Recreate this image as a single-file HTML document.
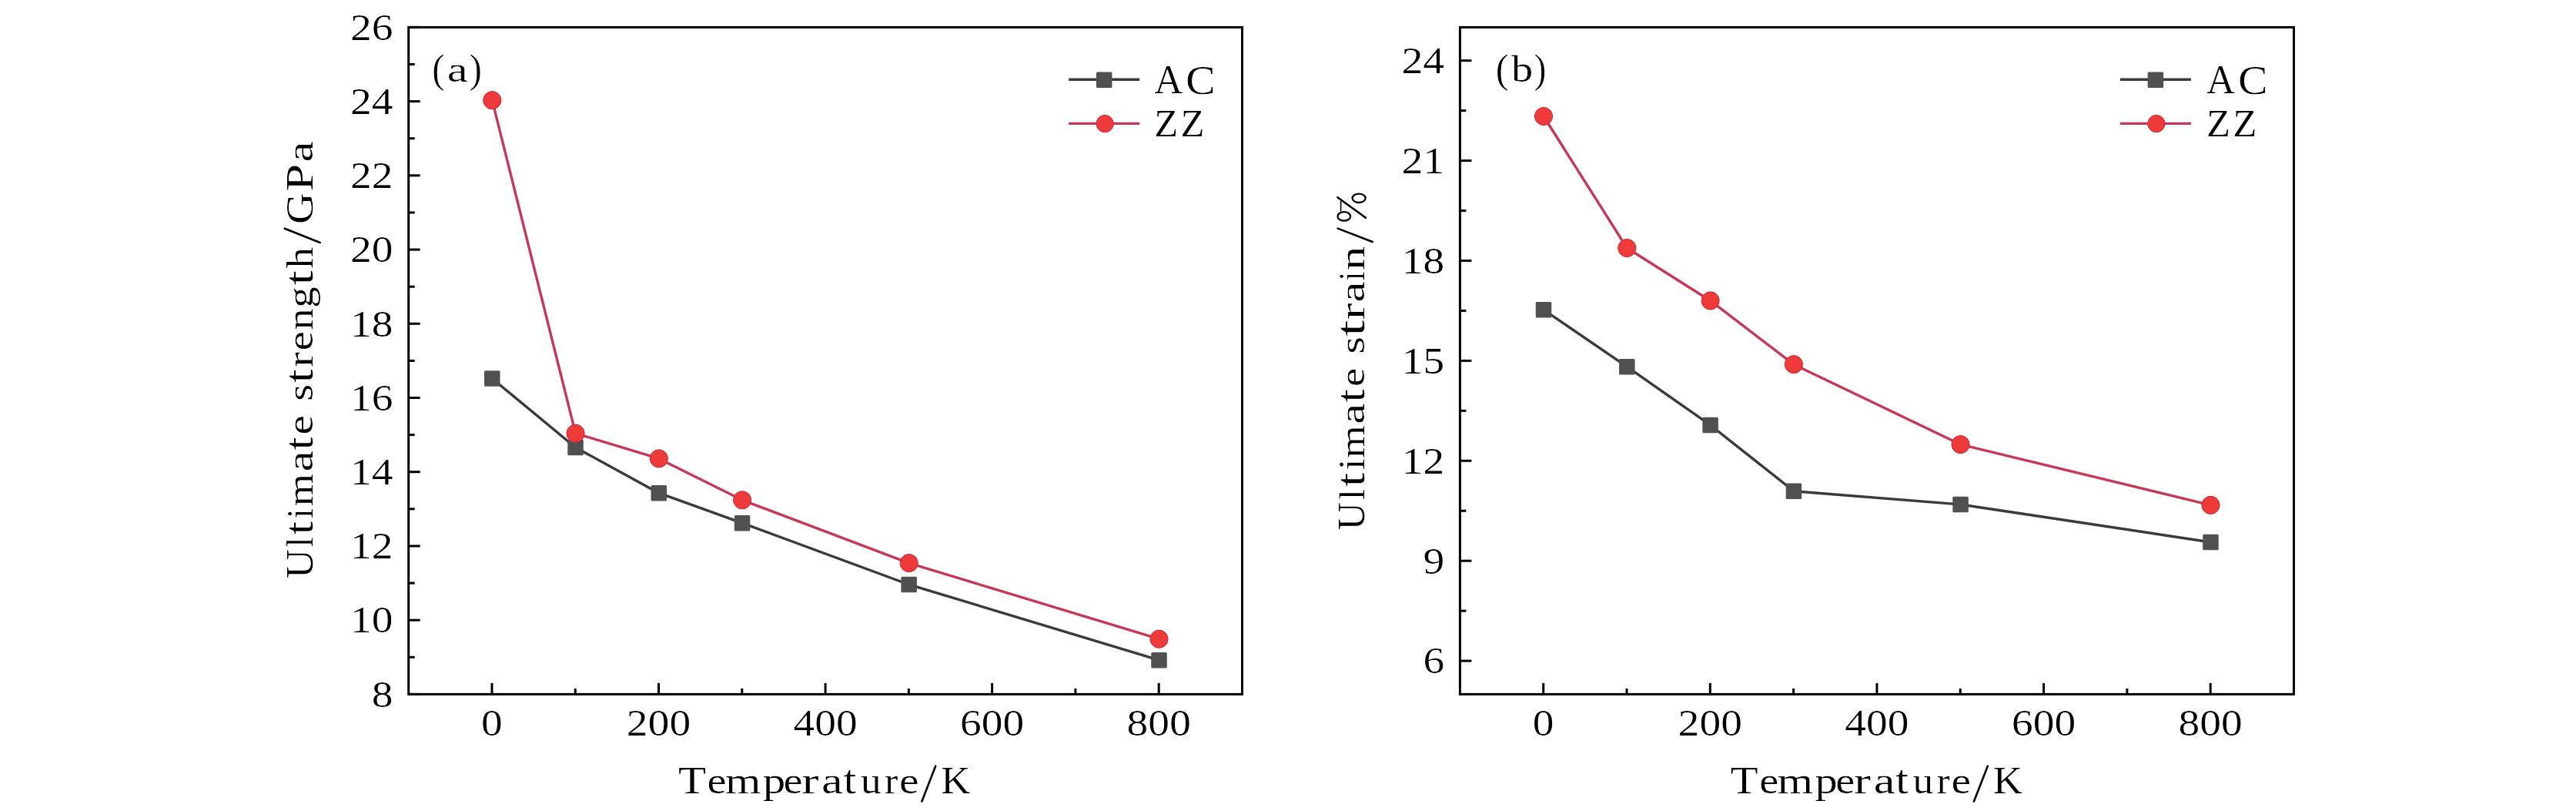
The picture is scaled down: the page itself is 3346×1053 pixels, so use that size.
<!DOCTYPE html>
<html><head><meta charset="utf-8"><style>
html,body{margin:0;padding:0;background:#fff;width:3346px;height:1053px;overflow:hidden}
svg{display:block;position:absolute;left:0;top:0}
text{font-family:"Liberation Serif",serif;font-size:100px;fill:#000}
mask text{fill:#fff}
</style></head><body>
<svg width="3346" height="1053" viewBox="0 0 3346 1053">
<rect width="3346" height="1053" fill="#fff"/>
<rect x="530.7" y="35.4" width="1082.80" height="866.00" fill="none" stroke="#000" stroke-width="3"/>
<line x1="638.98" y1="901.4" x2="638.98" y2="886.90" stroke="#000" stroke-width="3"/>
<line x1="747.26" y1="901.4" x2="747.26" y2="893.90" stroke="#000" stroke-width="3"/>
<line x1="855.54" y1="901.4" x2="855.54" y2="886.90" stroke="#000" stroke-width="3"/>
<line x1="963.82" y1="901.4" x2="963.82" y2="893.90" stroke="#000" stroke-width="3"/>
<line x1="1072.10" y1="901.4" x2="1072.10" y2="886.90" stroke="#000" stroke-width="3"/>
<line x1="1180.38" y1="901.4" x2="1180.38" y2="893.90" stroke="#000" stroke-width="3"/>
<line x1="1288.66" y1="901.4" x2="1288.66" y2="886.90" stroke="#000" stroke-width="3"/>
<line x1="1396.94" y1="901.4" x2="1396.94" y2="893.90" stroke="#000" stroke-width="3"/>
<line x1="1505.22" y1="901.4" x2="1505.22" y2="886.90" stroke="#000" stroke-width="3"/>
<line x1="530.7" y1="901.40" x2="545.70" y2="901.40" stroke="#000" stroke-width="3"/>
<line x1="530.7" y1="805.18" x2="545.70" y2="805.18" stroke="#000" stroke-width="3"/>
<line x1="530.7" y1="708.96" x2="545.70" y2="708.96" stroke="#000" stroke-width="3"/>
<line x1="530.7" y1="612.73" x2="545.70" y2="612.73" stroke="#000" stroke-width="3"/>
<line x1="530.7" y1="516.51" x2="545.70" y2="516.51" stroke="#000" stroke-width="3"/>
<line x1="530.7" y1="420.29" x2="545.70" y2="420.29" stroke="#000" stroke-width="3"/>
<line x1="530.7" y1="324.07" x2="545.70" y2="324.07" stroke="#000" stroke-width="3"/>
<line x1="530.7" y1="227.84" x2="545.70" y2="227.84" stroke="#000" stroke-width="3"/>
<line x1="530.7" y1="131.62" x2="545.70" y2="131.62" stroke="#000" stroke-width="3"/>
<line x1="530.7" y1="35.40" x2="545.70" y2="35.40" stroke="#000" stroke-width="3"/>
<line x1="530.7" y1="853.29" x2="538.70" y2="853.29" stroke="#000" stroke-width="3"/>
<line x1="530.7" y1="757.07" x2="538.70" y2="757.07" stroke="#000" stroke-width="3"/>
<line x1="530.7" y1="660.84" x2="538.70" y2="660.84" stroke="#000" stroke-width="3"/>
<line x1="530.7" y1="564.62" x2="538.70" y2="564.62" stroke="#000" stroke-width="3"/>
<line x1="530.7" y1="468.40" x2="538.70" y2="468.40" stroke="#000" stroke-width="3"/>
<line x1="530.7" y1="372.18" x2="538.70" y2="372.18" stroke="#000" stroke-width="3"/>
<line x1="530.7" y1="275.96" x2="538.70" y2="275.96" stroke="#000" stroke-width="3"/>
<line x1="530.7" y1="179.73" x2="538.70" y2="179.73" stroke="#000" stroke-width="3"/>
<line x1="530.7" y1="83.51" x2="538.70" y2="83.51" stroke="#000" stroke-width="3"/>
<polyline points="639.28,491.49 747.56,580.98 855.84,640.16 964.12,679.13 1180.68,758.99 1505.52,857.14" fill="none" stroke="#3a3a3a" stroke-width="3.4" stroke-linejoin="round"/>
<polyline points="639.28,130.18 747.56,562.70 855.84,595.41 964.12,649.30 1180.68,731.09 1505.52,829.71" fill="none" stroke="#c6385a" stroke-width="3.4" stroke-linejoin="round"/>
<rect x="629.03" y="481.24" width="20.5" height="20.5" rx="1.5" fill="#505050"/>
<rect x="737.31" y="570.73" width="20.5" height="20.5" rx="1.5" fill="#505050"/>
<rect x="845.59" y="629.91" width="20.5" height="20.5" rx="1.5" fill="#505050"/>
<rect x="953.87" y="668.88" width="20.5" height="20.5" rx="1.5" fill="#505050"/>
<rect x="1170.43" y="748.74" width="20.5" height="20.5" rx="1.5" fill="#505050"/>
<rect x="1495.27" y="846.89" width="20.5" height="20.5" rx="1.5" fill="#505050"/>
<circle cx="639.28" cy="130.18" r="11.6" fill="#ef3a3a" stroke="#c8283a" stroke-width="1"/>
<circle cx="747.56" cy="562.70" r="11.6" fill="#ef3a3a" stroke="#c8283a" stroke-width="1"/>
<circle cx="855.84" cy="595.41" r="11.6" fill="#ef3a3a" stroke="#c8283a" stroke-width="1"/>
<circle cx="964.12" cy="649.30" r="11.6" fill="#ef3a3a" stroke="#c8283a" stroke-width="1"/>
<circle cx="1180.68" cy="731.09" r="11.6" fill="#ef3a3a" stroke="#c8283a" stroke-width="1"/>
<circle cx="1505.52" cy="829.71" r="11.6" fill="#ef3a3a" stroke="#c8283a" stroke-width="1"/>
<line x1="1388.20" y1="103.3" x2="1480.20" y2="103.3" stroke="#3a3a3a" stroke-width="3.4"/>
<rect x="1423.95" y="93.45" width="20.5" height="20.5" rx="1.5" fill="#505050"/>
<line x1="1388.20" y1="160.4" x2="1480.20" y2="160.4" stroke="#c6385a" stroke-width="3.4"/>
<circle cx="1435.20" cy="160.6" r="11.2" fill="#ef3a3a" stroke="#c8283a" stroke-width="1"/>
<rect x="1896.4" y="35.4" width="1083.10" height="866.00" fill="none" stroke="#000" stroke-width="3"/>
<line x1="2004.71" y1="901.4" x2="2004.71" y2="886.90" stroke="#000" stroke-width="3"/>
<line x1="2113.02" y1="901.4" x2="2113.02" y2="893.90" stroke="#000" stroke-width="3"/>
<line x1="2221.33" y1="901.4" x2="2221.33" y2="886.90" stroke="#000" stroke-width="3"/>
<line x1="2329.64" y1="901.4" x2="2329.64" y2="893.90" stroke="#000" stroke-width="3"/>
<line x1="2437.95" y1="901.4" x2="2437.95" y2="886.90" stroke="#000" stroke-width="3"/>
<line x1="2546.26" y1="901.4" x2="2546.26" y2="893.90" stroke="#000" stroke-width="3"/>
<line x1="2654.57" y1="901.4" x2="2654.57" y2="886.90" stroke="#000" stroke-width="3"/>
<line x1="2762.88" y1="901.4" x2="2762.88" y2="893.90" stroke="#000" stroke-width="3"/>
<line x1="2871.19" y1="901.4" x2="2871.19" y2="886.90" stroke="#000" stroke-width="3"/>
<line x1="1896.4" y1="858.10" x2="1911.40" y2="858.10" stroke="#000" stroke-width="3"/>
<line x1="1896.4" y1="728.20" x2="1911.40" y2="728.20" stroke="#000" stroke-width="3"/>
<line x1="1896.4" y1="598.30" x2="1911.40" y2="598.30" stroke="#000" stroke-width="3"/>
<line x1="1896.4" y1="468.40" x2="1911.40" y2="468.40" stroke="#000" stroke-width="3"/>
<line x1="1896.4" y1="338.50" x2="1911.40" y2="338.50" stroke="#000" stroke-width="3"/>
<line x1="1896.4" y1="208.60" x2="1911.40" y2="208.60" stroke="#000" stroke-width="3"/>
<line x1="1896.4" y1="78.70" x2="1911.40" y2="78.70" stroke="#000" stroke-width="3"/>
<line x1="1896.4" y1="793.15" x2="1904.40" y2="793.15" stroke="#000" stroke-width="3"/>
<line x1="1896.4" y1="663.25" x2="1904.40" y2="663.25" stroke="#000" stroke-width="3"/>
<line x1="1896.4" y1="533.35" x2="1904.40" y2="533.35" stroke="#000" stroke-width="3"/>
<line x1="1896.4" y1="403.45" x2="1904.40" y2="403.45" stroke="#000" stroke-width="3"/>
<line x1="1896.4" y1="273.55" x2="1904.40" y2="273.55" stroke="#000" stroke-width="3"/>
<line x1="1896.4" y1="143.65" x2="1904.40" y2="143.65" stroke="#000" stroke-width="3"/>
<polyline points="2005.01,402.15 2113.32,476.19 2221.63,551.97 2329.94,637.70 2546.56,655.02 2871.49,703.95" fill="none" stroke="#3a3a3a" stroke-width="3.4" stroke-linejoin="round"/>
<polyline points="2005.01,151.01 2113.32,322.05 2221.63,390.46 2329.94,473.16 2546.56,577.08 2871.49,655.89" fill="none" stroke="#c6385a" stroke-width="3.4" stroke-linejoin="round"/>
<rect x="1994.76" y="391.90" width="20.5" height="20.5" rx="1.5" fill="#505050"/>
<rect x="2103.07" y="465.94" width="20.5" height="20.5" rx="1.5" fill="#505050"/>
<rect x="2211.38" y="541.72" width="20.5" height="20.5" rx="1.5" fill="#505050"/>
<rect x="2319.69" y="627.45" width="20.5" height="20.5" rx="1.5" fill="#505050"/>
<rect x="2536.31" y="644.77" width="20.5" height="20.5" rx="1.5" fill="#505050"/>
<rect x="2861.24" y="693.70" width="20.5" height="20.5" rx="1.5" fill="#505050"/>
<circle cx="2005.01" cy="151.01" r="11.6" fill="#ef3a3a" stroke="#c8283a" stroke-width="1"/>
<circle cx="2113.32" cy="322.05" r="11.6" fill="#ef3a3a" stroke="#c8283a" stroke-width="1"/>
<circle cx="2221.63" cy="390.46" r="11.6" fill="#ef3a3a" stroke="#c8283a" stroke-width="1"/>
<circle cx="2329.94" cy="473.16" r="11.6" fill="#ef3a3a" stroke="#c8283a" stroke-width="1"/>
<circle cx="2546.56" cy="577.08" r="11.6" fill="#ef3a3a" stroke="#c8283a" stroke-width="1"/>
<circle cx="2871.49" cy="655.89" r="11.6" fill="#ef3a3a" stroke="#c8283a" stroke-width="1"/>
<line x1="2753.90" y1="103.3" x2="2845.90" y2="103.3" stroke="#3a3a3a" stroke-width="3.4"/>
<rect x="2789.65" y="93.45" width="20.5" height="20.5" rx="1.5" fill="#505050"/>
<line x1="2753.90" y1="160.4" x2="2845.90" y2="160.4" stroke="#c6385a" stroke-width="3.4"/>
<circle cx="2800.90" cy="160.6" r="11.2" fill="#ef3a3a" stroke="#c8283a" stroke-width="1"/>
<defs>
<mask id="mh" maskUnits="userSpaceOnUse" x="0" y="0" width="3346" height="1053"><g transform="translate(0.45,0)" style="fill:#fff">
<text transform="translate(482.70,917.70) scale(0.556,0.487)">8</text>
<text transform="translate(454.90,821.48) scale(0.556,0.487)">10</text>
<text transform="translate(454.90,725.26) scale(0.556,0.487)">12</text>
<text transform="translate(454.90,629.03) scale(0.556,0.487)">14</text>
<text transform="translate(454.90,532.81) scale(0.556,0.487)">16</text>
<text transform="translate(454.90,436.59) scale(0.556,0.487)">18</text>
<text transform="translate(454.90,340.37) scale(0.556,0.487)">20</text>
<text transform="translate(454.90,244.14) scale(0.556,0.487)">22</text>
<text transform="translate(454.90,147.92) scale(0.556,0.487)">24</text>
<text transform="translate(454.90,51.70) scale(0.556,0.487)">26</text>
<text transform="translate(625.08,955.10) scale(0.556,0.487)">0</text>
<text transform="translate(813.84,955.10) scale(0.556,0.487)">200</text>
<text transform="translate(1030.40,955.10) scale(0.556,0.487)">400</text>
<text transform="translate(1246.96,955.10) scale(0.556,0.487)">600</text>
<text transform="translate(1463.52,955.10) scale(0.556,0.487)">800</text>
<text transform="translate(1848.40,874.40) scale(0.556,0.487)">6</text>
<text transform="translate(1848.40,744.50) scale(0.556,0.487)">9</text>
<text transform="translate(1820.60,614.60) scale(0.556,0.487)">12</text>
<text transform="translate(1820.60,484.70) scale(0.556,0.487)">15</text>
<text transform="translate(1820.60,354.80) scale(0.556,0.487)">18</text>
<text transform="translate(1820.60,224.90) scale(0.556,0.487)">21</text>
<text transform="translate(1820.60,95.00) scale(0.556,0.487)">24</text>
<text transform="translate(1990.81,955.10) scale(0.556,0.487)">0</text>
<text transform="translate(2179.63,955.10) scale(0.556,0.487)">200</text>
<text transform="translate(2396.25,955.10) scale(0.556,0.487)">400</text>
<text transform="translate(2612.87,955.10) scale(0.556,0.487)">600</text>
<text transform="translate(2829.49,955.10) scale(0.556,0.487)">800</text>
<text transform="translate(880.93,1030.20) scale(0.5918,0.5070)">T</text>
<text transform="translate(918.58,1030.20) scale(0.5674,0.4751)">e</text>
<text transform="translate(942.05,1030.20) scale(0.5977,0.4751)">m</text>
<text transform="translate(990.85,1030.20) scale(0.5867,0.4751)">p</text>
<text transform="translate(1017.58,1030.20) scale(0.5674,0.4751)">e</text>
<text transform="translate(1041.37,1030.20) scale(0.6640,0.4751)">r</text>
<text transform="translate(1067.09,1030.20) scale(0.6278,0.4751)">a</text>
<text transform="translate(1095.51,1030.20) scale(0.6064,0.5307)">t</text>
<text transform="translate(1117.89,1030.20) scale(0.5365,0.4751)">u</text>
<text transform="translate(1148.95,1030.20) scale(0.5227,0.4751)">r</text>
<text transform="translate(1167.94,1030.20) scale(0.5782,0.4751)">e</text>
<text transform="translate(1222.28,1030.20) scale(0.5285,0.5070)">K</text>
<text transform="translate(2247.53,1030.40) scale(0.5918,0.5131)">T</text>
<text transform="translate(2285.18,1030.40) scale(0.5674,0.4808)">e</text>
<text transform="translate(2308.65,1030.40) scale(0.5977,0.4808)">m</text>
<text transform="translate(2357.45,1030.40) scale(0.5867,0.4808)">p</text>
<text transform="translate(2384.18,1030.40) scale(0.5674,0.4808)">e</text>
<text transform="translate(2407.97,1030.40) scale(0.6640,0.4808)">r</text>
<text transform="translate(2433.69,1030.40) scale(0.6278,0.4808)">a</text>
<text transform="translate(2462.11,1030.40) scale(0.6064,0.5371)">t</text>
<text transform="translate(2484.49,1030.40) scale(0.5365,0.4808)">u</text>
<text transform="translate(2515.55,1030.40) scale(0.5227,0.4808)">r</text>
<text transform="translate(2534.54,1030.40) scale(0.5782,0.4808)">e</text>
<text transform="translate(2588.88,1030.40) scale(0.5285,0.5131)">K</text>
<text transform="translate(1499.20,121.00) scale(0.5148,0.5177)">A</text>
<text transform="translate(1540.13,121.59) scale(0.5781,0.5209)">C</text>
<text transform="translate(1499.26,177.00) scale(0.5095,0.5025)">Z</text>
<text transform="translate(1533.56,177.00) scale(0.5095,0.5025)">Z</text>
<text transform="translate(2866.00,121.00) scale(0.5148,0.5177)">A</text>
<text transform="translate(2906.93,121.59) scale(0.5781,0.5209)">C</text>
<text transform="translate(2866.06,177.00) scale(0.5095,0.5025)">Z</text>
<text transform="translate(2900.36,177.00) scale(0.5095,0.5025)">Z</text>
<text transform="translate(561.26,106.55) scale(0.4867,0.5283)">(</text>
<text transform="translate(580.66,105.75) scale(0.6101,0.4593)">a</text>
<text transform="translate(609.73,106.55) scale(0.4867,0.5283)">)</text>
<text transform="translate(1942.78,106.58) scale(0.5062,0.5272)">(</text>
<text transform="translate(1963.10,105.73) scale(0.5607,0.4861)">b</text>
<text transform="translate(1992.68,106.58) scale(0.4711,0.5272)">)</text>
</g></mask>
<mask id="mv" maskUnits="userSpaceOnUse" x="0" y="0" width="3346" height="1053"><g transform="translate(0,-0.45)" style="fill:#fff">
<text transform="translate(405.60,751.00) rotate(-90) scale(0.5249,0.5086)">U</text>
<text transform="translate(405.60,710.23) rotate(-90) scale(0.4668,0.4799)">l</text>
<text transform="translate(405.60,693.90) rotate(-90) scale(0.6140,0.5323)">t</text>
<text transform="translate(405.60,672.97) rotate(-90) scale(0.4626,0.4929)">i</text>
<text transform="translate(405.60,657.13) rotate(-90) scale(0.5397,0.4765)">m</text>
<text transform="translate(405.60,612.47) rotate(-90) scale(0.6177,0.4765)">a</text>
<text transform="translate(405.60,584.29) rotate(-90) scale(0.6064,0.5323)">t</text>
<text transform="translate(405.60,564.55) rotate(-90) scale(0.5755,0.4765)">e</text>
<text transform="translate(405.60,520.71) rotate(-90) scale(0.5641,0.4765)">s</text>
<text transform="translate(405.60,497.13) rotate(-90) scale(0.6483,0.5323)">t</text>
<text transform="translate(405.60,476.68) rotate(-90) scale(0.5917,0.4765)">r</text>
<text transform="translate(405.60,455.22) rotate(-90) scale(0.5674,0.4765)">e</text>
<text transform="translate(405.60,428.50) rotate(-90) scale(0.5672,0.4765)">n</text>
<text transform="translate(405.60,399.66) rotate(-90) scale(0.5502,0.4765)">g</text>
<text transform="translate(405.60,370.49) rotate(-90) scale(0.7017,0.5323)">t</text>
<text transform="translate(405.60,348.54) rotate(-90) scale(0.5534,0.4799)">h</text>
<text transform="translate(405.60,290.88) rotate(-90) scale(0.5570,0.5086)">G</text>
<text transform="translate(405.60,248.24) rotate(-90) scale(0.6382,0.5086)">P</text>
<text transform="translate(405.60,210.54) rotate(-90) scale(0.6101,0.4765)">a</text>
<text transform="translate(1772.20,688.35) rotate(-90) scale(0.4984,0.5009)">U</text>
<text transform="translate(1772.20,648.89) rotate(-90) scale(0.4920,0.4727)">l</text>
<text transform="translate(1772.20,631.94) rotate(-90) scale(0.6598,0.5243)">t</text>
<text transform="translate(1772.20,610.24) rotate(-90) scale(0.5425,0.4855)">i</text>
<text transform="translate(1772.20,594.75) rotate(-90) scale(0.5478,0.4693)">m</text>
<text transform="translate(1772.20,550.84) rotate(-90) scale(0.6101,0.4693)">a</text>
<text transform="translate(1772.20,522.20) rotate(-90) scale(0.6140,0.5243)">t</text>
<text transform="translate(1772.20,502.04) rotate(-90) scale(0.5485,0.4693)">e</text>
<text transform="translate(1772.20,459.82) rotate(-90) scale(0.5897,0.4693)">s</text>
<text transform="translate(1772.20,436.63) rotate(-90) scale(0.7513,0.5243)">t</text>
<text transform="translate(1772.20,415.10) rotate(-90) scale(0.6476,0.4693)">r</text>
<text transform="translate(1772.20,392.54) rotate(-90) scale(0.6101,0.4693)">a</text>
<text transform="translate(1772.20,364.17) rotate(-90) scale(0.4163,0.4855)">i</text>
<text transform="translate(1772.20,351.14) rotate(-90) scale(0.6278,0.4693)">n</text>
</g></mask>
</defs>
<g transform="translate(-0.225,0)"><g mask="url(#mh)">
<text transform="translate(482.70,917.70) scale(0.556,0.487)">8</text>
<text transform="translate(454.90,821.48) scale(0.556,0.487)">10</text>
<text transform="translate(454.90,725.26) scale(0.556,0.487)">12</text>
<text transform="translate(454.90,629.03) scale(0.556,0.487)">14</text>
<text transform="translate(454.90,532.81) scale(0.556,0.487)">16</text>
<text transform="translate(454.90,436.59) scale(0.556,0.487)">18</text>
<text transform="translate(454.90,340.37) scale(0.556,0.487)">20</text>
<text transform="translate(454.90,244.14) scale(0.556,0.487)">22</text>
<text transform="translate(454.90,147.92) scale(0.556,0.487)">24</text>
<text transform="translate(454.90,51.70) scale(0.556,0.487)">26</text>
<text transform="translate(625.08,955.10) scale(0.556,0.487)">0</text>
<text transform="translate(813.84,955.10) scale(0.556,0.487)">200</text>
<text transform="translate(1030.40,955.10) scale(0.556,0.487)">400</text>
<text transform="translate(1246.96,955.10) scale(0.556,0.487)">600</text>
<text transform="translate(1463.52,955.10) scale(0.556,0.487)">800</text>
<text transform="translate(1848.40,874.40) scale(0.556,0.487)">6</text>
<text transform="translate(1848.40,744.50) scale(0.556,0.487)">9</text>
<text transform="translate(1820.60,614.60) scale(0.556,0.487)">12</text>
<text transform="translate(1820.60,484.70) scale(0.556,0.487)">15</text>
<text transform="translate(1820.60,354.80) scale(0.556,0.487)">18</text>
<text transform="translate(1820.60,224.90) scale(0.556,0.487)">21</text>
<text transform="translate(1820.60,95.00) scale(0.556,0.487)">24</text>
<text transform="translate(1990.81,955.10) scale(0.556,0.487)">0</text>
<text transform="translate(2179.63,955.10) scale(0.556,0.487)">200</text>
<text transform="translate(2396.25,955.10) scale(0.556,0.487)">400</text>
<text transform="translate(2612.87,955.10) scale(0.556,0.487)">600</text>
<text transform="translate(2829.49,955.10) scale(0.556,0.487)">800</text>
<text transform="translate(880.93,1030.20) scale(0.5918,0.5070)">T</text>
<text transform="translate(918.58,1030.20) scale(0.5674,0.4751)">e</text>
<text transform="translate(942.05,1030.20) scale(0.5977,0.4751)">m</text>
<text transform="translate(990.85,1030.20) scale(0.5867,0.4751)">p</text>
<text transform="translate(1017.58,1030.20) scale(0.5674,0.4751)">e</text>
<text transform="translate(1041.37,1030.20) scale(0.6640,0.4751)">r</text>
<text transform="translate(1067.09,1030.20) scale(0.6278,0.4751)">a</text>
<text transform="translate(1095.51,1030.20) scale(0.6064,0.5307)">t</text>
<text transform="translate(1117.89,1030.20) scale(0.5365,0.4751)">u</text>
<text transform="translate(1148.95,1030.20) scale(0.5227,0.4751)">r</text>
<text transform="translate(1167.94,1030.20) scale(0.5782,0.4751)">e</text>
<text transform="translate(1222.28,1030.20) scale(0.5285,0.5070)">K</text>
<text transform="translate(2247.53,1030.40) scale(0.5918,0.5131)">T</text>
<text transform="translate(2285.18,1030.40) scale(0.5674,0.4808)">e</text>
<text transform="translate(2308.65,1030.40) scale(0.5977,0.4808)">m</text>
<text transform="translate(2357.45,1030.40) scale(0.5867,0.4808)">p</text>
<text transform="translate(2384.18,1030.40) scale(0.5674,0.4808)">e</text>
<text transform="translate(2407.97,1030.40) scale(0.6640,0.4808)">r</text>
<text transform="translate(2433.69,1030.40) scale(0.6278,0.4808)">a</text>
<text transform="translate(2462.11,1030.40) scale(0.6064,0.5371)">t</text>
<text transform="translate(2484.49,1030.40) scale(0.5365,0.4808)">u</text>
<text transform="translate(2515.55,1030.40) scale(0.5227,0.4808)">r</text>
<text transform="translate(2534.54,1030.40) scale(0.5782,0.4808)">e</text>
<text transform="translate(2588.88,1030.40) scale(0.5285,0.5131)">K</text>
<text transform="translate(1499.20,121.00) scale(0.5148,0.5177)">A</text>
<text transform="translate(1540.13,121.59) scale(0.5781,0.5209)">C</text>
<text transform="translate(1499.26,177.00) scale(0.5095,0.5025)">Z</text>
<text transform="translate(1533.56,177.00) scale(0.5095,0.5025)">Z</text>
<text transform="translate(2866.00,121.00) scale(0.5148,0.5177)">A</text>
<text transform="translate(2906.93,121.59) scale(0.5781,0.5209)">C</text>
<text transform="translate(2866.06,177.00) scale(0.5095,0.5025)">Z</text>
<text transform="translate(2900.36,177.00) scale(0.5095,0.5025)">Z</text>
<text transform="translate(561.26,106.55) scale(0.4867,0.5283)">(</text>
<text transform="translate(580.66,105.75) scale(0.6101,0.4593)">a</text>
<text transform="translate(609.73,106.55) scale(0.4867,0.5283)">)</text>
<text transform="translate(1942.78,106.58) scale(0.5062,0.5272)">(</text>
<text transform="translate(1963.10,105.73) scale(0.5607,0.4861)">b</text>
<text transform="translate(1992.68,106.58) scale(0.4711,0.5272)">)</text>
</g></g>
<g transform="translate(0,0.225)"><g mask="url(#mv)">
<text transform="translate(405.60,751.00) rotate(-90) scale(0.5249,0.5086)">U</text>
<text transform="translate(405.60,710.23) rotate(-90) scale(0.4668,0.4799)">l</text>
<text transform="translate(405.60,693.90) rotate(-90) scale(0.6140,0.5323)">t</text>
<text transform="translate(405.60,672.97) rotate(-90) scale(0.4626,0.4929)">i</text>
<text transform="translate(405.60,657.13) rotate(-90) scale(0.5397,0.4765)">m</text>
<text transform="translate(405.60,612.47) rotate(-90) scale(0.6177,0.4765)">a</text>
<text transform="translate(405.60,584.29) rotate(-90) scale(0.6064,0.5323)">t</text>
<text transform="translate(405.60,564.55) rotate(-90) scale(0.5755,0.4765)">e</text>
<text transform="translate(405.60,520.71) rotate(-90) scale(0.5641,0.4765)">s</text>
<text transform="translate(405.60,497.13) rotate(-90) scale(0.6483,0.5323)">t</text>
<text transform="translate(405.60,476.68) rotate(-90) scale(0.5917,0.4765)">r</text>
<text transform="translate(405.60,455.22) rotate(-90) scale(0.5674,0.4765)">e</text>
<text transform="translate(405.60,428.50) rotate(-90) scale(0.5672,0.4765)">n</text>
<text transform="translate(405.60,399.66) rotate(-90) scale(0.5502,0.4765)">g</text>
<text transform="translate(405.60,370.49) rotate(-90) scale(0.7017,0.5323)">t</text>
<text transform="translate(405.60,348.54) rotate(-90) scale(0.5534,0.4799)">h</text>
<text transform="translate(405.60,290.88) rotate(-90) scale(0.5570,0.5086)">G</text>
<text transform="translate(405.60,248.24) rotate(-90) scale(0.6382,0.5086)">P</text>
<text transform="translate(405.60,210.54) rotate(-90) scale(0.6101,0.4765)">a</text>
<text transform="translate(1772.20,688.35) rotate(-90) scale(0.4984,0.5009)">U</text>
<text transform="translate(1772.20,648.89) rotate(-90) scale(0.4920,0.4727)">l</text>
<text transform="translate(1772.20,631.94) rotate(-90) scale(0.6598,0.5243)">t</text>
<text transform="translate(1772.20,610.24) rotate(-90) scale(0.5425,0.4855)">i</text>
<text transform="translate(1772.20,594.75) rotate(-90) scale(0.5478,0.4693)">m</text>
<text transform="translate(1772.20,550.84) rotate(-90) scale(0.6101,0.4693)">a</text>
<text transform="translate(1772.20,522.20) rotate(-90) scale(0.6140,0.5243)">t</text>
<text transform="translate(1772.20,502.04) rotate(-90) scale(0.5485,0.4693)">e</text>
<text transform="translate(1772.20,459.82) rotate(-90) scale(0.5897,0.4693)">s</text>
<text transform="translate(1772.20,436.63) rotate(-90) scale(0.7513,0.5243)">t</text>
<text transform="translate(1772.20,415.10) rotate(-90) scale(0.6476,0.4693)">r</text>
<text transform="translate(1772.20,392.54) rotate(-90) scale(0.6101,0.4693)">a</text>
<text transform="translate(1772.20,364.17) rotate(-90) scale(0.4163,0.4855)">i</text>
<text transform="translate(1772.20,351.14) rotate(-90) scale(0.6278,0.4693)">n</text>
</g></g>
<line x1="1215.20" y1="994.7" x2="1197.40" y2="1040.5" stroke="#000" stroke-width="2.6" stroke-linecap="round"/>
<line x1="2581.80" y1="994.7" x2="2564.00" y2="1040.5" stroke="#000" stroke-width="2.6" stroke-linecap="round"/>
<line x1="369.8" y1="296.70" x2="415.7" y2="315.00" stroke="#000" stroke-width="2.6" stroke-linecap="round"/>
<line x1="1737.7" y1="296.60" x2="1782.7" y2="314.00" stroke="#000" stroke-width="2.6" stroke-linecap="round"/>
<line x1="1737.4" y1="256.3" x2="1774.0" y2="282.8" stroke="#000" stroke-width="2.6" stroke-linecap="round"/>
<ellipse cx="1765.1" cy="257.3" rx="8.5" ry="5.7" fill="none" stroke="#000" stroke-width="2.3"/>
<ellipse cx="1745.8" cy="280.9" rx="8.3" ry="5.8" fill="none" stroke="#000" stroke-width="2.3"/>
<line x1="1741.6" y1="261" x2="1741.6" y2="274.5" stroke="#000" stroke-width="1.6"/>
</svg>
</body></html>
